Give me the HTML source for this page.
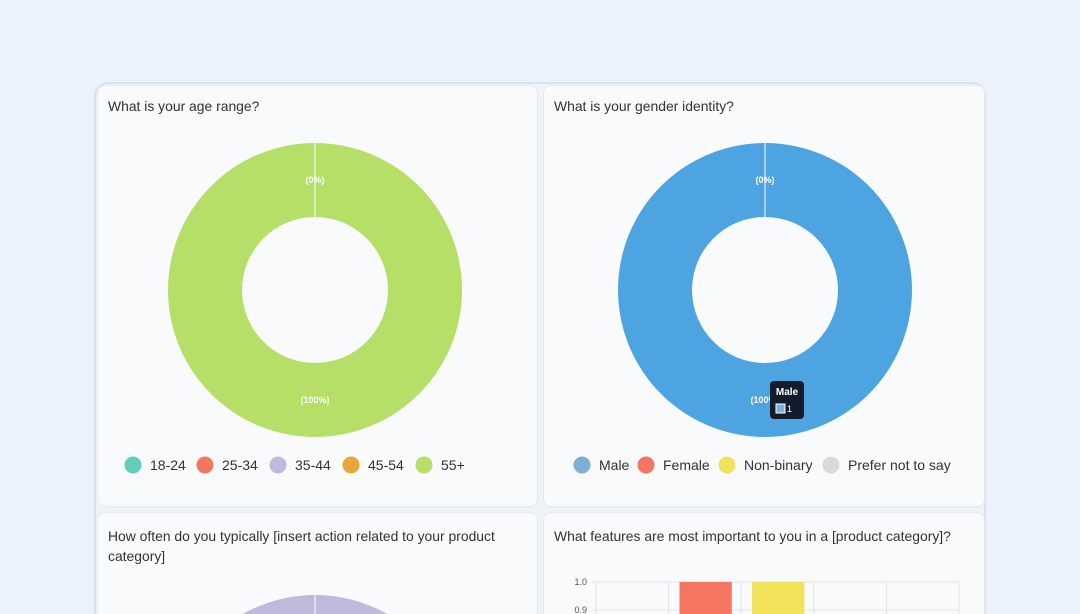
<!DOCTYPE html>
<html><head><meta charset="utf-8"><style>
html,body{margin:0;padding:0;width:1080px;height:614px;overflow:hidden;background:#ebf2fc;font-family:"Liberation Sans",sans-serif;}
#root{position:relative;width:1080px;height:614px;overflow:hidden;}
#wrap{position:absolute;left:94px;top:82px;width:888px;height:600px;border:2px solid #d3e3ef;border-radius:14px;background:#eef3f8;}
.panel{position:absolute;background:#f9fafb;border:1px solid #e6eaee;border-radius:8px;overflow:hidden;}
.title{position:absolute;left:10px;top:10px;font-size:13.9px;color:#333;line-height:20px;}
svg{position:absolute;left:0;top:0;overflow:hidden;}
</style></head><body>
<div id="root">
<div id="wrap"></div>
<div class="panel" style="left:97px;top:85px;width:439px;height:420px"><div class="title">What is your age range?</div></div>
<div class="panel" style="left:543px;top:85px;width:440px;height:420px"><div class="title">What is your gender identity?</div></div>
<div class="panel" style="left:97px;top:512px;width:439px;height:150px"><div class="title" style="width:425px;top:13px">How often do you typically [insert action related to your product category]</div></div>
<div class="panel" style="left:543px;top:512px;width:440px;height:150px"><div class="title" style="top:13px">What features are most important to you in a [product category]?</div></div>
<svg id="s" width="1080" height="614" viewBox="0 0 1080 614" xmlns="http://www.w3.org/2000/svg"></svg>
</div>
<script>
const ageCats=["18-24","25-34","35-44","45-54","55+"];
const ageVals=[0,0,0,0,1];
const ageColors=["#61cdbb","#f47560","#c0b9dc","#e8a838","#b5df66"];
const genderCats=["Male","Female","Non-binary","Prefer not to say"];
const genderVals=[1,0,0,0];
const genderColors=["#4da4e0","#f47560","#f1e15b","#d9d9d9"];
const genderLegendColors=["#7eb0d6","#f47560","#f1e15b","#d9d9d9"];
const freqVals=[0,0,1,0];
const freqColors=["#61cdbb","#f47560","#c0b9dc","#e8a838"];
const featCats=["A","B","C","D","E"];
const featVals=[0,1,1,0,0];
const featColors=["#61cdbb","#f47560","#f1e15b","#e8a838","#b5df66"];
const yTicks=[1.0,0.9,0.8];
const NS="http://www.w3.org/2000/svg";
const S=document.getElementById('s');
function mk(t,a,p){const e=document.createElementNS(NS,t);for(const k in a)e.setAttribute(k,a[k]);(p||S).appendChild(e);return e;}
const defs=mk('defs',{});
const cp=mk('clipPath',{id:'clipAll'},defs);
mk('rect',{x:0,y:0,width:1080,height:614},cp);
const G=mk('g',{'clip-path':'url(#clipAll)'});


function arc(cx,cy,r0,r1,a0,a1){
 if(a1-a0>=Math.PI*2-1e-6){
  return `M${cx},${cy-r1}A${r1},${r1} 0 1 1 ${cx},${cy+r1}A${r1},${r1} 0 1 1 ${cx},${cy-r1}Z`+(r0>0?`M${cx},${cy-r0}A${r0},${r0} 0 1 0 ${cx},${cy+r0}A${r0},${r0} 0 1 0 ${cx},${cy-r0}Z`:'');
 }
 const p=(r,a)=>[cx+r*Math.sin(a),cy-r*Math.cos(a)];
 const l=a1-a0>Math.PI?1:0;const A=p(r1,a0),B=p(r1,a1);
 if(r0>0){const C=p(r0,a1),D=p(r0,a0);return `M${A}A${r1},${r1} 0 ${l} 1 ${B}L${C}A${r0},${r0} 0 ${l} 0 ${D}Z`;}
 return `M${cx},${cy}L${A}A${r1},${r1} 0 ${l} 1 ${B}Z`;
}
function pie(cx,cy,r0,r1,vals,cols,name,labels){
 const tot=vals.reduce((a,b)=>a+b,0);let a=0;
 vals.forEach((v,i)=>{const da=v/tot*Math.PI*2;
  if(v>0){const e=mk('path',{d:arc(cx,cy,r0,r1,a,a+da),fill:cols[i],'fill-rule':'evenodd'},G);
  
  }
  a+=da;});
 const ln=mk('line',{x1:cx,y1:cy-r1,x2:cx,y2:cy-(r0||0),stroke:'#fff','stroke-width':1},G);
 
 
 if(labels){
  let t=mk('text',{x:cx,y:cy-107,'text-anchor':'middle','font-size':9,'font-weight':'bold',fill:'#fff'},G);t.textContent='(0%)';
  
  
  t=mk('text',{x:cx,y:cy+113,'text-anchor':'middle','font-size':9,'font-weight':'bold',fill:'#fff'},G);t.textContent='(100%)';
  
  
 }
}
function legend(x,y,cats,cols,name,gaps){
 let cx=x;
 cats.forEach((c,i)=>{
  const ci=mk('circle',{cx:cx+8,cy:y,r:8.5,fill:cols[i]},G);
  
  
  const t=mk('text',{x:cx+25,y:y+5,'font-size':14,fill:'#333'},G);t.textContent=c;
  
  
  cx+=gaps[i];
 });
}
pie(315,290,73,147,ageVals,ageColors,'age',true);
legend(125,465,ageCats,ageColors,'age',[72,73,73,73,60]);
pie(765,290,73,147,genderVals,genderColors,'gender',true);
legend(574,465,genderCats,genderLegendColors,'gender',[64,81,104,140]);
pie(315,742,0,147,freqVals,freqColors,'frequency',false);
const tg=mk('g',{},G);


mk('rect',{x:770,y:381,width:34,height:38,rx:4,fill:'#111d2b'},tg);
let tt=mk('text',{x:787,y:395,'text-anchor':'middle','font-size':10,'font-weight':'bold',fill:'#fff'},tg);tt.textContent='Male';
mk('rect',{x:776,y:404,width:9,height:9,fill:'#7eb0d6',stroke:'#fff','stroke-width':1},tg);
tt=mk('text',{x:787,y:412,'font-size':9,fill:'#fff'},tg);tt.textContent='1';
const x0=596,x1=959,yTop=582,unit=280;
const ys=v=>yTop-(v-1.0)*unit;
const bw=(x1-x0)/featCats.length;
const xs=i=>x0+i*bw;
yTicks.forEach((v,i)=>{
 const y=ys(v);
 const g=mk('line',{x1:x0-4,y1:y,x2:x1,y2:y,stroke:'#e3e3e3','stroke-width':1},G);
 
 
 const t=mk('text',{x:x0-9,y:y+3,'text-anchor':'end','font-size':9,fill:'#555'},G);t.textContent=v.toFixed(1);
 
 
});
for(let i=0;i<=featCats.length;i++){
 const l=mk('line',{x1:xs(i),y1:yTop,x2:xs(i),y2:640,stroke:'#e3e3e3','stroke-width':1},G);
 
 
}
featVals.forEach((v,i)=>{
 if(v<=0)return;
 const y=ys(v);
 const r=mk('rect',{x:xs(i)+bw*0.15,y:y,width:bw*0.72,height:Math.max(0,ys(0)-y),fill:featColors[i]},G);
 
 
});
</script>
</body></html>
